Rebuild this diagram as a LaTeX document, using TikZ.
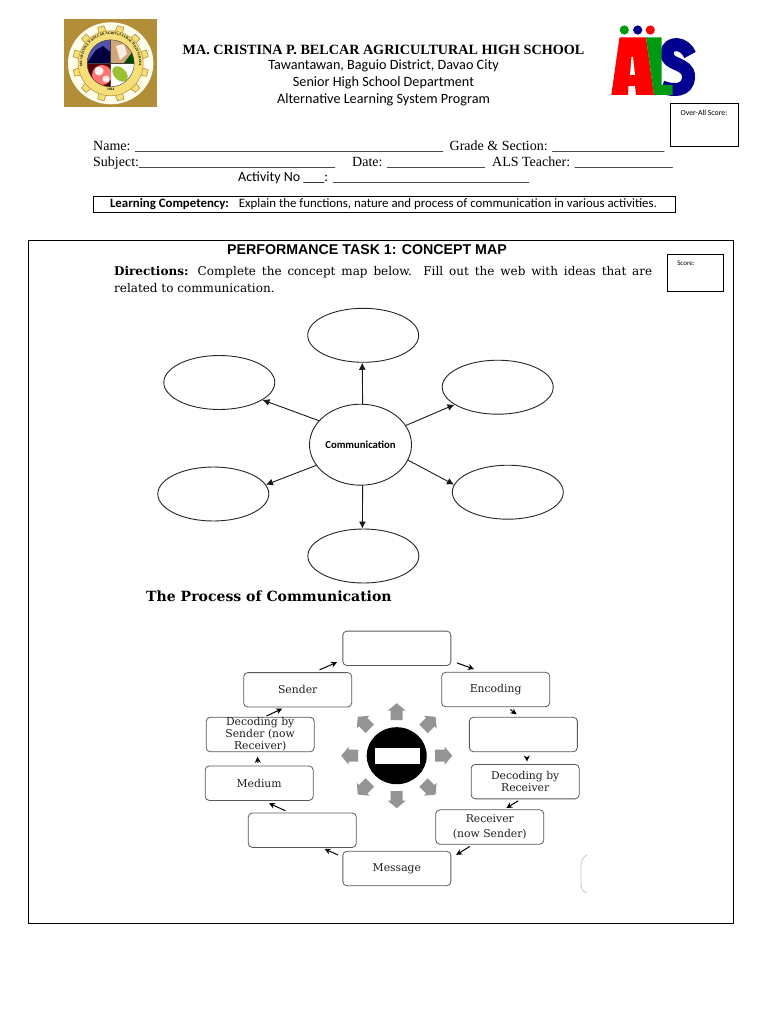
\documentclass[tikz,border=0pt]{standalone}
\usepackage{fontspec}
\setmainfont{Liberation Serif}
\newfontfamily\carl{Carlito}
\newfontfamily\dvs{DejaVu Serif}
\newfontfamily\lsans{Liberation Sans}
\usetikzlibrary{shapes.geometric,arrows.meta,decorations.text}
\definecolor{goldbg}{HTML}{B28E38}
\definecolor{gearyel}{HTML}{F6DF78}
\definecolor{labelc}{HTML}{1F1F1F}
\definecolor{alsgreen}{HTML}{009A10}
\definecolor{alsblue}{HTML}{000090}
\def\uX{\_\_\_\_\_\_\_\_\_\_}
\tikzset{
 x=1pt,y=-1pt,
 formtxt/.style={anchor=base west,inner sep=0pt,font=\fontsize{14}{16}\selectfont},
 headtxt/.style={inner sep=0pt,font=\carl\fontsize{14.2}{15}\selectfont},
 oval/.style={ellipse,draw=black!85,line width=0.9pt,minimum width=111pt,minimum height=54pt,inner sep=0pt},
 maparrow/.style={-{Latex[length=7pt,width=7pt]},line width=0.9pt,black!90},
 pbox/.style={draw=black!65,line width=0.8pt,rounded corners=4pt,minimum width=108pt,minimum height=34.4pt,inner sep=0pt,align=center,text=labelc,font=\dvs\fontsize{10.8}{12}\selectfont},
 parrow/.style={-{Stealth[length=6pt,width=6pt]},line width=1pt,black},
 scorebox/.style={draw=black,line width=0.9pt,inner sep=0pt},
 blockarrow/.style={fill=black!42},
}
\begin{document}
\begin{tikzpicture}
\useasboundingbox (0,0) rectangle (768,1024);
\fill[white] (0,0) rectangle (768,1024);
% school seal
\fill[goldbg] (64,19) rectangle (157,107.3);
\fill[white!92!yellow] (110.7,63.3) ellipse [x radius=42.7,y radius=41];
\foreach \a in {0,30,...,330}{
 \fill[gearyel,draw=goldbg,line width=0.6pt,shift={(110.7,63.3)},rotate=\a+15] (30,-4) -- (38,-3.2) -- (38,3.2) -- (30,4) -- cycle;
}
\fill[gearyel,draw=goldbg,line width=0.5pt] (110.7,63.3) circle [radius=32.5];
\fill[gearyel] (110.7,63.3) circle [radius=31];
\path[decorate,decoration={text along path,text align=center,text={|\fontsize{3.4}{4}\selectfont\bfseries|MA. CRISTINA P. BELCAR AGRICULTURAL HIGH SCHOOL}}]
 (85.2,76) arc [start angle=153,end angle=387,radius=28.5];
\node[inner sep=0pt,font=\fontsize{3.6}{4}\selectfont\bfseries] (yr) at (110.7,89.5) {1964};
\begin{scope}
 \clip (110.7,63.3) circle [radius=23.5];
 \fill[black!75] (85,38) rectangle (136,90);
 \fill[blue!35!gray] (87,40) rectangle (110.2,63);
 \fill[black!75!blue] (87,63) -- (96,50) -- (103,46) -- (110.2,52) -- (110.2,63) -- cycle;
 \fill[brown!70!white] (111.2,40) rectangle (134,63);
 \fill[white!85!brown] (116,46) -- (124,44) -- (127,54) -- (120,60) -- cycle;
 \fill[green!30!black] (124,63) -- (134,50) -- (134,63) -- cycle;
 \fill[red!35!black] (87,64) rectangle (110.2,87);
 \fill[red!55!white] (102,75) circle [radius=10];
 \fill[white!80!pink] (99,71) circle [radius=4.5];
 \fill[white!70!pink] (106,79) circle [radius=3.5];
 \fill[white] (111.2,64) rectangle (134,87);
 \fill[yellow!65!green!85!black,rotate around={45:(120,74)}] (120,74) ellipse [x radius=6,y radius=9];
\end{scope}
\draw[black!70,line width=0.4pt] (110.7,63.3) circle [radius=23.5];
% ALS logo
\fill[red] (611.3,95) -- (619.5,37.3) -- (646,37.3) -- (654,95) -- (636,95) -- (635,86) -- (628.5,86) -- (628,95) -- cycle;
\fill[white] (630,75) -- (635,75) -- (633,57) -- (631.5,57) -- cycle;
\draw[alsblue,line width=13pt] (690,55) .. controls (685,42) and (668,41) .. (667,53) .. controls (666,66) and (689,62) .. (688.5,77) .. controls (688,92) and (672,91) .. (662,87);
\fill[alsgreen] (646,37.3) -- (661.7,37.3) -- (661.7,85) -- (672.7,85) -- (672.7,95) -- (654,95) -- cycle;
\fill[alsgreen] (624.3,30) circle [radius=4.6];
\fill[alsblue] (637.7,30) circle [radius=4.6];
\fill[red] (650.3,30) circle [radius=4.6];
% header text
\node[inner sep=0pt,font=\bfseries\fontsize{14.15}{16}\selectfont] (title) at (383.5,50) {MA. CRISTINA P. BELCAR AGRICULTURAL HIGH SCHOOL};
\node[headtxt] (addr) at (383.5,66) {Tawantawan, Baguio District, Davao City};
\node[headtxt] (dept) at (383.5,82.5) {Senior High School Department};
\node[headtxt] (prog) at (383.5,99.5) {Alternative Learning System Program};
\node[scorebox,minimum width=68pt,minimum height=43pt] (overall) at (704,124.5) {};
\node[inner sep=0pt,font=\carl\fontsize{7.8}{8}\selectfont] (overallt) at (704,113) {Over-All Score:};
% form lines
\node[formtxt] (name) at (93,151) {Name: \uX\uX\uX\uX\_\_\_\_};
\node[formtxt] (grade) at (449.5,151) {Grade \& Section: \uX\_\_\_\_\_\_};
\node[formtxt] (subj) at (93,167) {Subject:\uX\uX\_\_\_\_\_\_\_\_};
\node[formtxt] (date) at (352,167) {Date: \uX\_\_\_\_};
\node[formtxt] (teach) at (492,167) {ALS Teacher: \uX\_\_\_\_};
\node[formtxt,font=\carl\fontsize{14}{15}\selectfont] (act) at (238,182) {Activity No \_\_\_: };
\node[formtxt] (actl) at (333,182) {\uX\uX\_\_\_\_\_\_\_\_};
\node[scorebox,minimum width=582pt,minimum height=16pt] (lcbox) at (384,204) {};
\node[inner sep=0pt,font=\carl\fontsize{12.85}{14}\selectfont] (lc) at (383.5,204) {\textbf{Learning Competency:}\hspace{6pt} Explain the functions, nature and process of communication in various activities.};
% main frame
\node[draw=black,line width=0.9pt,minimum width=705pt,minimum height=683pt,inner sep=0pt] (frame) at (380.5,581.5) {};
\node[inner sep=0pt,font=\lsans\bfseries\fontsize{14.2}{15}\selectfont] (ptitle) at (367,250) {PERFORMANCE TASK 1: CONCEPT MAP};
\node[scorebox,minimum width=56pt,minimum height=37pt] (score) at (695,272.5) {};
\node[inner sep=0pt,font=\carl\fontsize{7}{7}\selectfont] (scoret) at (686,263) {Score:};
\node[anchor=base west,inner sep=0pt,font=\dvs\fontsize{12}{13}\selectfont] (dir1) at (114,275) {\makebox[538pt][s]{\textbf{Directions:} Complete the concept map below. Fill out the web with ideas that are}};
\node[anchor=base west,inner sep=0pt,font=\dvs\fontsize{12}{13}\selectfont] (dir2) at (114,292) {related to communication.};
% concept map
\node[oval] (otop) at (363.2,335.3) {};
\node[oval] (oul) at (219.3,382.5) {};
\node[oval] (our) at (497.7,387.2) {};
\node[oval] (oll) at (213.3,494) {};
\node[oval] (olr) at (507.8,492.2) {};
\node[oval] (obot) at (363.35,556) {};
\node[ellipse,draw=black!85,line width=0.9pt,minimum width=102pt,minimum height=81pt,inner sep=0pt,font=\carl\bfseries\fontsize{10.7}{11}\selectfont] (comm) at (360.5,444.7) {Communication};
\draw[maparrow] (comm.87) -- (otop.268);
\draw[maparrow] (comm.150) -- (oul.338);
\draw[maparrow] (comm.23) -- (our.202);
\draw[maparrow] (comm.205) -- (oll.10);
\draw[maparrow] (comm.342) -- (olr.172);
\draw[maparrow] (comm.273) -- (obot.92);
\node[anchor=base west,inner sep=0pt,font=\dvs\bfseries\fontsize{14.05}{15}\selectfont] (proc) at (146,601) {The Process of Communication};
% process cycle
\node[pbox] (ptop) at (396.85,648.3) {};
\node[pbox] (psender) at (297.7,689.8) {Sender};
\node[pbox] (penc) at (495.65,689.5) {Encoding};
\node[pbox] (pblankr) at (523.35,734.5) {};
\node[pbox] (pdecr) at (525.15,781.65) {Decoding by\\Receiver};
\node[pbox] (precv) at (489.8,827) {Receiver\\[3.5pt](now Sender)};
\node[pbox] (pmsg) at (396.85,868.5) {Message};
\node[pbox] (pblankl) at (302.3,830.2) {};
\node[pbox] (pmed) at (259.15,783.2) {Medium};
\node[pbox] (pdecs) at (260.15,734.5) {Decoding by\\Sender (now\\Receiver)};
\draw[parrow,shorten <=6pt,shorten >=6pt] (psender.47.4) -- (ptop.192.4);
\draw[parrow,shorten <=6pt,shorten >=8.5pt] (ptop.347.3) -- (penc.128.6);
\draw[parrow,shorten <=4pt,shorten >=4.2pt] (penc.303.3) -- (pblankr.101.6);
\draw[parrow,shorten <=4.7pt,shorten >=2.6pt] (pblankr.281.3) -- (pdecr.84.9);
\draw[parrow,shorten <=3pt,shorten >=2.6pt] (pdecr.256.5) -- (precv.51);
\draw[parrow,shorten <=3.5pt,shorten >=5.8pt] (precv.226.9) -- (pmsg.11.9);
\draw[parrow,shorten <=4.8pt,shorten >=3.1pt] (pmsg.168) -- (pblankl.318.5);
\draw[parrow,shorten <=4.6pt,shorten >=6pt] (pblankl.126.8) -- (pmed.284.9);
\draw[parrow,shorten <=2.4pt,shorten >=4.7pt] (pmed.94.7) -- (pdecs.261.7);
\draw[parrow,shorten <=2.2pt,shorten >=3.1pt] (pdecs.76.1) -- (psender.234.3);
% centre sign
\foreach \a/\d in {0/3,45/2.5,90/0,135/2.5,180/3,225/2.5,270/0,315/2.5}{
 \fill[blockarrow,shift={(396.7,755.7)},rotate=\a,xshift=\d pt] (52.5,0) -- (45,9) -- (45,6) -- (35.5,6) -- (35.5,-6) -- (45,-6) -- (45,-9) -- cycle;
}
\fill[black] (396.7,755.7) ellipse [x radius=30,y radius=28.5];
\fill[white] (375,748.3) rectangle (420,764);
% clipped fragment
\draw[black!20,line width=0.9pt] (587,855) .. controls (582,857) and (581,862) .. (581,868) -- (581,882) .. controls (581,888) and (582,891) .. (587,893);
\end{tikzpicture}
\end{document}
